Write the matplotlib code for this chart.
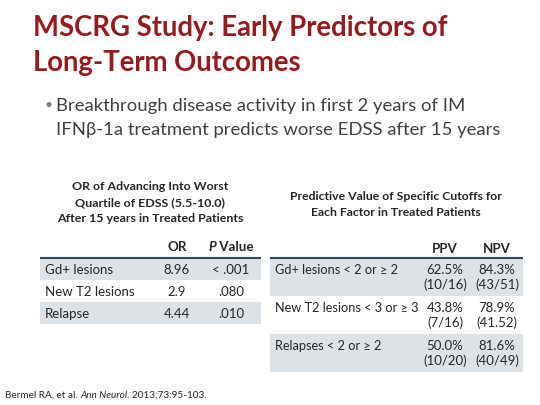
import matplotlib
matplotlib.use("Agg")
import matplotlib.pyplot as plt
from matplotlib.patches import Rectangle

plt.rcParams['font.family'] = ['Lato', 'DejaVu Sans']

# slide text
title_lines = ["MSCRG Study: Early Predictors of", "Long-Term Outcomes"]
bullet_lines = ["Breakthrough disease activity in first 2 years of IM",
                "IFN\u03b2-1a treatment predicts worse EDSS after 15 years"]

# left table: odds ratios
or_title = ["OR of Advancing Into Worst", "Quartile of EDSS (5.5-10.0)",
            "After 15 years in Treated Patients"]
or_factors = ["Gd+ lesions", "New T2 lesions", "Relapse"]
or_values = ["8.96", "2.9", "4.44"]
p_values = ["< .001", ".080", ".010"]

# right table: predictive values
pv_title = ["Predictive Value of Specific Cutoffs for", "Each Factor in Treated Patients"]
pv_factors = ["Gd+ lesions < 2 or \u2265 2", "New T2 lesions < 3 or \u2265 3", "Relapses < 2 or \u2265 2"]
ppv_pct = ["62.5%", "43.8%", "50.0%"]
ppv_frac = ["(10/16)", "(7/16)", "(10/20)"]
npv_pct = ["84.3%", "78.9%", "81.6%"]
npv_frac = ["(43/51)", "(41.52)", "(40/49)"]

# citation pieces (text, italic?)
citation = [("Bermel RA, et al. ", False), ("Ann Neurol", True), (". 2013;73:95-103.", False)]

RED = "#961b1e"
GREY_TXT = "#404040"
DARK = "#262626"
BAND = "#dde2e7"
RULE = "#34495e"
BODY = 9.5

fig = plt.figure(figsize=(5.4, 4.05), dpi=100)
ax = fig.add_axes([0, 0, 1, 1])
ax.set_xlim(0, 540)
ax.set_ylim(405, 0)
ax.axis("off")
renderer = fig.canvas.get_renderer()


def run_of_text(x, y, pieces, **kw):
    """Write pieces one after another on a line, measuring each as we go."""
    inv = ax.transData.inverted()
    for txt, italic in pieces:
        t = ax.text(x, y, txt, style="italic" if italic else "normal",
                    ha="left", va="center", **kw)
        bb = t.get_window_extent(renderer)
        x = inv.transform((bb.x1, bb.y0))[0]


# title
for i, line in enumerate(title_lines):
    ax.text(33, 28 + i * 35, line, fontsize=19.8, fontweight="bold", color=RED,
            ha="left", va="center")

# bullet
ax.text(44, 105, "\u2022", fontsize=10, color="#7f7f7f", ha="left", va="center")
for i, line in enumerate(bullet_lines):
    ax.text(56, 106 + i * 24, line, fontsize=13.3, color=GREY_TXT, ha="left", va="center")

# ---- left table ----
for i, line in enumerate(or_title):
    ax.text(150, 187 + i * 16, line, fontsize=8.9, fontweight="bold", color=DARK,
            ha="center", va="center")
lx0, lx1, top, rh = 40, 261, 258, 22
ax.text(177, 247, "OR", fontsize=9.6, fontweight="bold", color=DARK, ha="center", va="center")
run_of_text(208, 247, [("P", True), (" Value", False)], fontsize=9.6, fontweight="bold", color=DARK)
for r, (fac, orv, pv) in enumerate(zip(or_factors, or_values, p_values)):
    y0 = top + r * rh
    if r % 2 == 0:
        ax.add_patch(Rectangle((lx0, y0), lx1 - lx0, rh, color=BAND, lw=0))
    yc = y0 + rh / 2 + 0.5
    ax.text(45, yc, fac, fontsize=BODY, color=DARK, ha="left", va="center")
    ax.text(177, yc, orv, fontsize=BODY, color=DARK, ha="center", va="center")
    ax.text(231, yc, pv, fontsize=BODY, color=DARK, ha="center", va="center")
ax.plot([lx0, lx1], [top, top], color=RULE, lw=1.5, solid_capstyle="butt")

# ---- right table ----
for i, line in enumerate(pv_title):
    ax.text(396, 196 + i * 16, line, fontsize=8.85, fontweight="bold", color=DARK,
            ha="center", va="center")
rx0, rx1, rh2 = 270, 523, 38
ax.text(445, 249, "PPV", fontsize=9.6, fontweight="bold", color=DARK, ha="center", va="center")
ax.text(497, 249, "NPV", fontsize=9.6, fontweight="bold", color=DARK, ha="center", va="center")
for r in range(len(pv_factors)):
    y0 = top + r * rh2
    if r % 2 == 0:
        ax.add_patch(Rectangle((rx0, y0), rx1 - rx0, rh2, color=BAND, lw=0))
    ax.text(275, y0 + 12, pv_factors[r], fontsize=9.2, color=DARK, ha="left", va="center")
    ax.text(445, y0 + 12, ppv_pct[r], fontsize=BODY, color=DARK, ha="center", va="center")
    ax.text(445, y0 + 27, ppv_frac[r], fontsize=BODY, color=DARK, ha="center", va="center")
    ax.text(497, y0 + 12, npv_pct[r], fontsize=BODY, color=DARK, ha="center", va="center")
    ax.text(497, y0 + 27, npv_frac[r], fontsize=BODY, color=DARK, ha="center", va="center")
ax.plot([rx0, rx1], [top, top], color=RULE, lw=1.5, solid_capstyle="butt")

# citation
run_of_text(5, 395, citation, fontsize=7.2, color=DARK)

fig.savefig("out.png", dpi=100, facecolor="white")
